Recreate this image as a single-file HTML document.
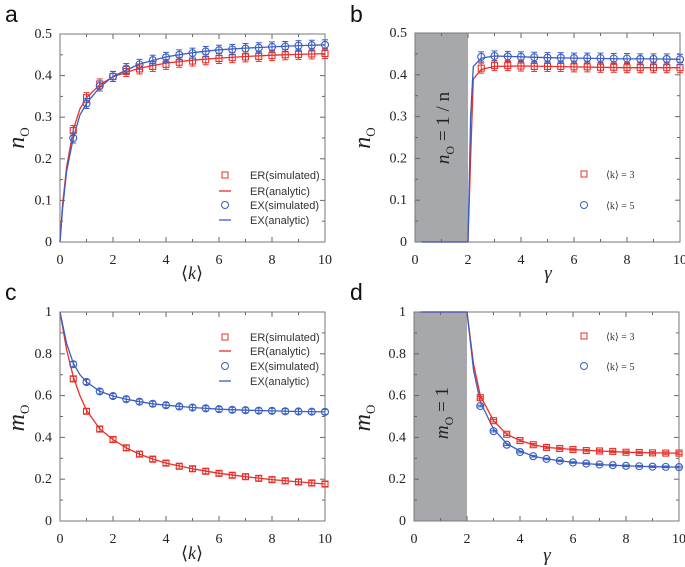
<!DOCTYPE html>
<html><head><meta charset="utf-8"><style>
body{margin:0;background:#fff;width:685px;height:567px;overflow:hidden}
svg{display:block}
.tk{font-family:"Liberation Serif",serif;font-size:14px;fill:#222}
.lg{font-family:"Liberation Sans",sans-serif;font-size:11px;fill:#333}
.lg2{font-family:"Liberation Serif",serif;font-size:10px;fill:#333}
.pl{font-family:"Liberation Sans",sans-serif;font-size:23px;fill:#111}
</style></head><body>
<svg id="fig" width="685" height="567"></svg>
<script>
// ---- Panel a data ----
const simX = [0.5,1,1.5,2,2.5,3,3.5,4,4.5,5,5.5,6,6.5,7,7.5,8,8.5,9,9.5,10];
const anX = [0,0.1,0.25,0.5,0.75,1,1.5,2,3,4,5,6,7,8,9,10];
const aERsim = [0.268,0.347,0.38,0.398,0.41,0.416,0.422,0.427,0.432,0.435,0.438,0.441,0.443,0.445,0.446,0.448,0.45,0.451,0.452,0.453];
const aEXsim = [0.25,0.333,0.375,0.398,0.417,0.427,0.437,0.444,0.45,0.454,0.458,0.461,0.463,0.465,0.467,0.469,0.47,0.472,0.473,0.474];
const aERan = [0,0.09,0.18,0.27,0.32,0.347,0.378,0.397,0.418,0.43,0.437,0.442,0.446,0.449,0.451,0.453];
const aEXan = [0,0.08,0.17,0.25,0.305,0.333,0.372,0.398,0.428,0.445,0.455,0.462,0.466,0.469,0.472,0.474];
// ---- Panel b data ----
const gSimX = [2.5,3,3.5,4,4.5,5,5.5,6,6.5,7,7.5,8,8.5,9,9.5,10];
const gAnX = [0.25,1,2,2.1,2.2,2.5,3,4,5,6,7,8,9,10];
const bK3sim = [0.416,0.422,0.422,0.421,0.42,0.42,0.42,0.419,0.419,0.418,0.418,0.417,0.417,0.417,0.417,0.417];
const bK5sim = [0.443,0.445,0.444,0.443,0.442,0.441,0.441,0.44,0.44,0.44,0.439,0.439,0.438,0.438,0.438,0.437];
const bK3an = [0,0,0,0.2,0.39,0.413,0.42,0.421,0.42,0.419,0.418,0.417,0.417,0.417];
const bK5an = [0,0,0,0.3,0.42,0.44,0.445,0.443,0.441,0.44,0.439,0.438,0.438,0.437];
// ---- Panel c data ----
const cAnX = [0,0.25,0.5,0.75,1,1.5,2,2.5,3,3.5,4,5,6,7,8,9,10];
const cERan = [1,0.82,0.69,0.6,0.53,0.44,0.39,0.35,0.32,0.296,0.277,0.25,0.228,0.212,0.198,0.187,0.177];
const cEXan = [1,0.85,0.755,0.7,0.665,0.62,0.598,0.583,0.571,0.561,0.554,0.543,0.535,0.53,0.527,0.524,0.522];
const cERsim = [0.68,0.525,0.44,0.39,0.35,0.32,0.296,0.277,0.262,0.25,0.238,0.228,0.219,0.212,0.204,0.198,0.192,0.187,0.182,0.177];
const cEXsim = [0.75,0.665,0.62,0.598,0.583,0.571,0.561,0.554,0.548,0.543,0.539,0.535,0.532,0.53,0.528,0.527,0.525,0.524,0.523,0.522];
// ---- Panel d data ----
const dAnX = [0.25,1,2,2.25,2.5,3,3.5,4,4.5,5,6,7,8,9,10];
const dK3an = [1,1,1,0.75,0.6,0.48,0.415,0.385,0.365,0.352,0.342,0.335,0.329,0.326,0.325];
const dK5an = [1,1,1,0.72,0.57,0.44,0.37,0.335,0.31,0.297,0.28,0.27,0.264,0.26,0.258];
const dK3sim = [0.59,0.48,0.415,0.385,0.365,0.352,0.347,0.342,0.337,0.335,0.333,0.329,0.328,0.326,0.325,0.325];
const dK5sim = [0.55,0.43,0.365,0.33,0.31,0.297,0.288,0.28,0.275,0.27,0.267,0.264,0.262,0.26,0.259,0.258];

const RED="#e8302a", BLUE="#3a5fc0";
const svg=document.getElementById('fig');
const NS="http://www.w3.org/2000/svg";
function mk(tag,attrs,parent){const e=document.createElementNS(NS,tag);for(const k in attrs)e.setAttribute(k,attrs[k]);(parent||svg).appendChild(e);return e;}

function panel(o){
  const g=mk('g',{});
  
  
  const sx=v=>o.L+(v-0)/(10)*(o.R-o.L);
  const sy=v=>o.B-(v/o.ymax)*(o.B-o.T);
  if(o.grey){const r=mk('rect',{x:sx(0),y:o.T,width:sx(2)-sx(0),height:o.B-o.T,fill:'#a7a8ab'},g);
    }
  for(let i=0;i<=10;i+=1){const x=sx(i),len=(i%2==0)?5:3;
    mk('line',{x1:x,y1:o.B,x2:x,y2:o.B-len,stroke:'#666'},g);
    mk('line',{x1:x,y1:o.T,x2:x,y2:o.T+len,stroke:'#666'},g);}
  const ns=o.yticks.length-1;
  for(let j=0;j<=ns*2;j++){const v=o.ymax*j/(ns*2),y=sy(v),len=j%2==0?5:3;
    mk('line',{x1:o.L,y1:y,x2:o.L+len,y2:y,stroke:'#666'},g);
    mk('line',{x1:o.R,y1:y,x2:o.R-len,y2:y,stroke:'#666'},g);}
  o.yticks.forEach((t,j)=>{const tt=mk('text',{x:o.L-8,y:sy(o.ymax*j/ns)+4,'text-anchor':'end',class:'tk'},g);tt.textContent=t;
    });
  [0,2,4,6,8,10].forEach(t=>{const tt=mk('text',{x:sx(t),y:o.B+22,'text-anchor':'middle',class:'tk'},g);tt.textContent=t;
    });
  mk('rect',{x:o.L,y:o.T,width:o.R-o.L,height:o.B-o.T,fill:'none',stroke:'#777','stroke-width':1},g);
  o.lines.forEach(l=>{const d=l.x.map((x,i)=>(i?'L':'M')+sx(x).toFixed(1)+','+sy(l.y[i]).toFixed(1)).join('');
    const p=mk('path',{d:d,fill:'none',stroke:l.c,'stroke-width':1.3,'stroke-linejoin':'round'},g);
    });
  o.pts.forEach(s=>{s.x.forEach((x,i)=>{const X=sx(x),Y=sy(s.y[i]);
    if(s.err){mk('line',{x1:X,y1:sy(s.y[i]-s.err),x2:X,y2:sy(s.y[i]+s.err),stroke:s.c,'stroke-width':1},g);
      mk('line',{x1:X-3,y1:sy(s.y[i]-s.err),x2:X+3,y2:sy(s.y[i]-s.err),stroke:s.c},g);
      mk('line',{x1:X-3,y1:sy(s.y[i]+s.err),x2:X+3,y2:sy(s.y[i]+s.err),stroke:s.c},g);}
    let m;
    if(s.sq)m=mk('rect',{x:X-3,y:Y-3,width:6,height:6,fill:'none',stroke:s.c,'stroke-width':1.1},g);
    else m=mk('circle',{cx:X,cy:Y,r:3.5,fill:'none',stroke:s.c,'stroke-width':1.1},g);
    });});
  o.legend.forEach(e=>{
    if(e.t=='sq')mk('rect',{x:e.mx-3,y:e.y-3,width:6,height:6,fill:'none',stroke:e.c},g);
    else if(e.t=='ci')mk('circle',{cx:e.mx,cy:e.y,r:3.5,fill:'none',stroke:e.c},g);
    else mk('line',{x1:e.mx-6,y1:e.y,x2:e.mx+6,y2:e.y,stroke:e.c,'stroke-width':1.3},g);
    const tt=mk('text',{x:e.tx,y:e.y+4,class:o.lgc},g);tt.textContent=e.s;
    });
  return g;
}
function txt(x,y,s,cls,name,extra){const t=mk('text',Object.assign({x:x,y:y,class:cls},extra||{}));t.innerHTML=s;
  return t;}

panel({name:'panel-a',L:60,R:325,T:34,B:242,ymax:0.5,yticks:['0','0.1','0.2','0.3','0.4','0.5'],lgc:'lg',
 lines:[{x:anX,y:aERan,c:RED,n:'er-analytic-line'},{x:anX,y:aEXan,c:BLUE,n:'ex-analytic-line'}],
 pts:[{x:simX,y:aERsim,c:RED,sq:1,err:0.012,n:'er-simulated-point'},{x:simX,y:aEXsim,c:BLUE,err:0.012,n:'ex-simulated-point'}],
 legend:[{t:'sq',c:RED,mx:225,tx:250,y:175,s:'ER(simulated)'},{t:'ln',c:RED,mx:225,tx:250,y:191,s:'ER(analytic)'},
  {t:'ci',c:BLUE,mx:225,tx:250,y:205,s:'EX(simulated)'},{t:'ln',c:BLUE,mx:225,tx:250,y:220,s:'EX(analytic)'}]});
panel({name:'panel-b',L:415,R:680,T:33,B:242,ymax:0.5,yticks:['0','0.1','0.2','0.3','0.4','0.5'],lgc:'lg2',grey:1,
 lines:[{x:gAnX,y:bK3an,c:RED,n:'k3-analytic-line'},{x:gAnX,y:bK5an,c:BLUE,n:'k5-analytic-line'}],
 pts:[{x:gSimX,y:bK3sim,c:RED,sq:1,err:0.012,n:'k3-simulated-point'},{x:gSimX,y:bK5sim,c:BLUE,err:0.012,n:'k5-simulated-point'}],
 legend:[{t:'sq',c:RED,mx:584,tx:606,y:174,s:'⟨k⟩ = 3'},{t:'ci',c:BLUE,mx:584,tx:606,y:205,s:'⟨k⟩ = 5'}]});
panel({name:'panel-c',L:60,R:325,T:312,B:521,ymax:1,yticks:['0','0.2','0.4','0.6','0.8','1'],lgc:'lg',
 lines:[{x:cAnX,y:cERan,c:RED,n:'er-analytic-line'},{x:cAnX,y:cEXan,c:BLUE,n:'ex-analytic-line'}],
 pts:[{x:simX,y:cERsim,c:RED,sq:1,err:0.012,n:'er-simulated-point'},{x:simX,y:cEXsim,c:BLUE,err:0.012,n:'ex-simulated-point'}],
 legend:[{t:'sq',c:RED,mx:225,tx:250,y:337,s:'ER(simulated)'},{t:'ln',c:RED,mx:225,tx:250,y:351,s:'ER(analytic)'},
  {t:'ci',c:BLUE,mx:225,tx:250,y:366,s:'EX(simulated)'},{t:'ln',c:BLUE,mx:225,tx:250,y:381,s:'EX(analytic)'}]});
panel({name:'panel-d',L:414,R:679,T:312,B:521,ymax:1,yticks:['0','0.2','0.4','0.6','0.8','1'],lgc:'lg2',grey:1,
 lines:[{x:dAnX,y:dK3an,c:RED,n:'k3-analytic-line'},{x:dAnX,y:dK5an,c:BLUE,n:'k5-analytic-line'}],
 pts:[{x:gSimX,y:dK3sim,c:RED,sq:1,err:0.006,n:'k3-simulated-point'},{x:gSimX,y:dK5sim,c:BLUE,err:0.004,n:'k5-simulated-point'}],
 legend:[{t:'sq',c:RED,mx:584,tx:606,y:336,s:'⟨k⟩ = 3'},{t:'ci',c:BLUE,mx:584,tx:606,y:366,s:'⟨k⟩ = 5'}]});

txt(5,22,'a','pl','panel-label-a');txt(350,22,'b','pl','panel-label-b');
txt(5,300,'c','pl','panel-label-c');txt(350,300,'d','pl','panel-label-d');
const ser='font-family:"Liberation Serif",serif;';
function ytitle(x,y,m){const t=txt(0,0,m+'<tspan font-style="normal" font-size="13" dy="5">O</tspan>','', 'y-axis-title',
 {transform:`translate(${x},${y}) rotate(-90)`,'text-anchor':'middle',style:ser+'font-size:24px;font-style:italic;fill:#222'});}
ytitle(24,138,'n');ytitle(370,138,'n');ytitle(24,418,'m');ytitle(370,418,'m');
txt(192,279,'⟨<tspan font-style="italic">k</tspan>⟩','','x-axis-title',{'text-anchor':'middle',style:ser+'font-size:18px;fill:#222'});
txt(192,559,'⟨<tspan font-style="italic">k</tspan>⟩','','x-axis-title',{'text-anchor':'middle',style:ser+'font-size:18px;fill:#222'});
txt(548,279,'γ','','x-axis-title',{'text-anchor':'middle',style:ser+'font-size:19px;font-style:italic;fill:#222'});
txt(547,561,'γ','','x-axis-title',{'text-anchor':'middle',style:ser+'font-size:19px;font-style:italic;fill:#222'});
txt(0,0,'<tspan font-style="italic">n</tspan><tspan font-size="12" dy="5">O</tspan><tspan dy="-5"> = 1 / n</tspan>','','shaded-annotation',
 {transform:'translate(449,128) rotate(-90)','text-anchor':'middle',style:ser+'font-size:19px;fill:#222'});
txt(0,0,'<tspan font-style="italic">m</tspan><tspan font-size="12" dy="5">O</tspan><tspan dy="-5"> = 1</tspan>','','shaded-annotation',
 {transform:'translate(448,413) rotate(-90)','text-anchor':'middle',style:ser+'font-size:19px;fill:#222'});
</script>
</body></html>
